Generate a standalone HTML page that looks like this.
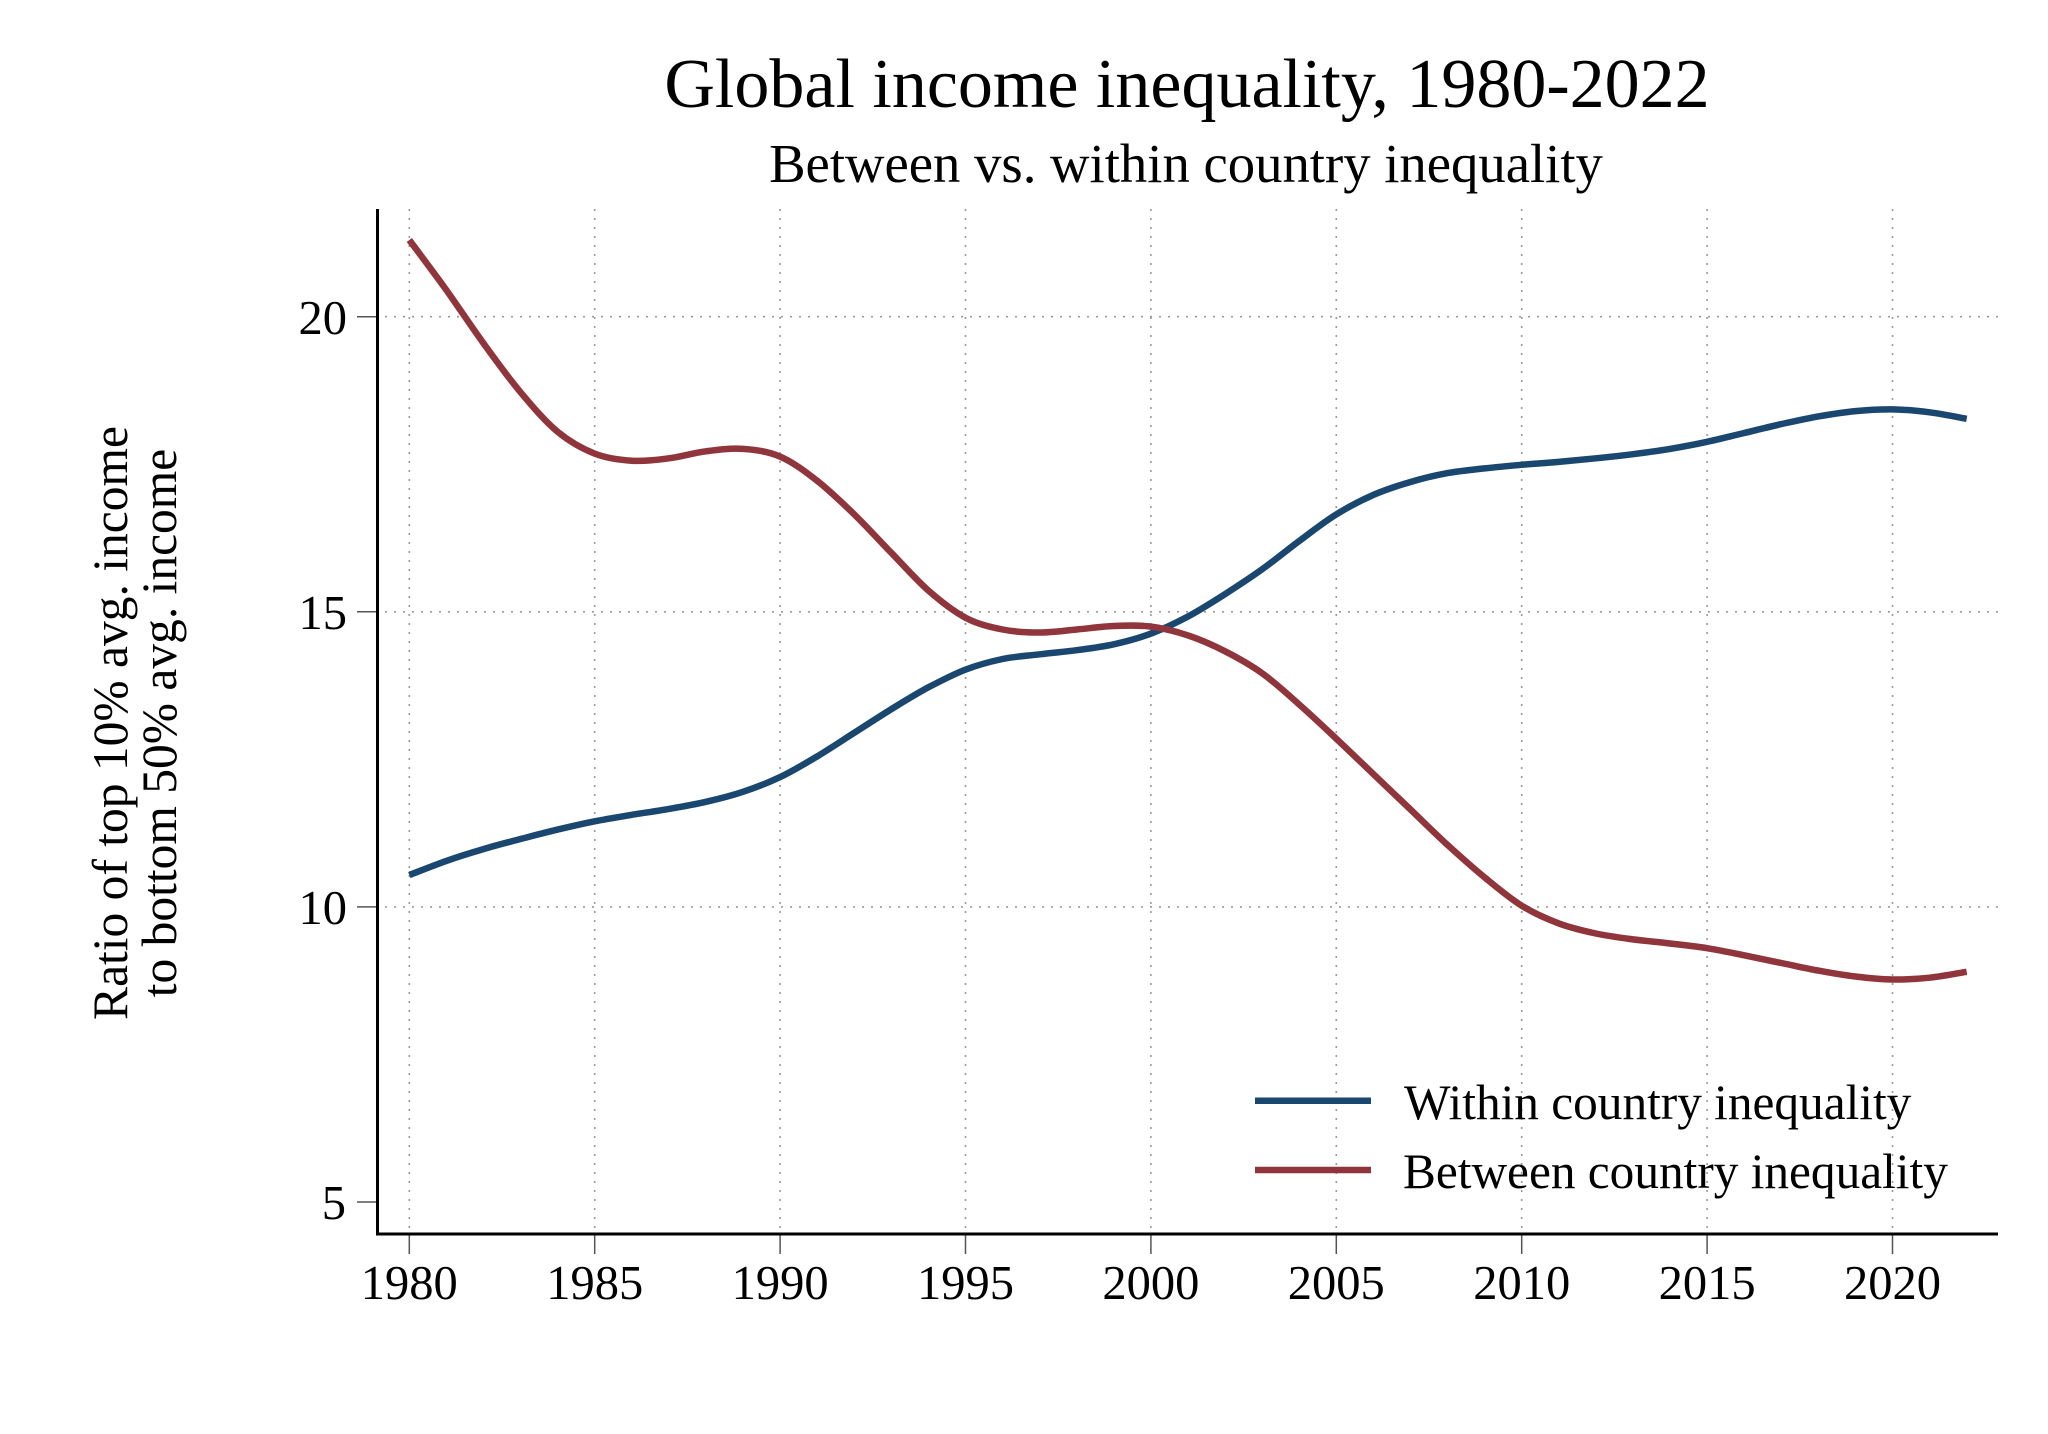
<!DOCTYPE html>
<html>
<head>
<meta charset="utf-8">
<style>
html,body{margin:0;padding:0;background:#fff;}
svg{display:block;}
text{font-family:"Liberation Serif","Times New Roman",serif;fill:#000;}
</style>
</head>
<body>
<svg id="chart" xmlns="http://www.w3.org/2000/svg" width="2048" height="1434" viewBox="0 0 2048 1434">
<rect x="0" y="0" width="2048" height="1434" fill="#fff"/>
<text x="1187" y="107" font-size="70" text-anchor="middle">Global income inequality, 1980-2022</text>
<text x="1186" y="182" font-size="54.7" text-anchor="middle">Between vs. within country inequality</text>

<g stroke="#9a9a9a" stroke-width="1.6" stroke-dasharray="2 7" fill="none">
<line x1="385" y1="316.7" x2="1998" y2="316.7"/>
<line x1="385" y1="611.8" x2="1998" y2="611.8"/>
<line x1="385" y1="906.9" x2="1998" y2="906.9"/>
<line x1="409.3" y1="209" x2="409.3" y2="1230"/>
<line x1="594.7" y1="209" x2="594.7" y2="1230"/>
<line x1="780.1" y1="209" x2="780.1" y2="1230"/>
<line x1="965.5" y1="209" x2="965.5" y2="1230"/>
<line x1="1150.9" y1="209" x2="1150.9" y2="1230"/>
<line x1="1336.3" y1="209" x2="1336.3" y2="1230"/>
<line x1="1521.7" y1="209" x2="1521.7" y2="1230"/>
<line x1="1707.1" y1="209" x2="1707.1" y2="1230"/>
<line x1="1892.5" y1="209" x2="1892.5" y2="1230"/>
</g>

<g stroke="#555" stroke-width="1.5">
<line x1="357" y1="316.7" x2="377" y2="316.7"/>
<line x1="357" y1="611.8" x2="377" y2="611.8"/>
<line x1="357" y1="906.9" x2="377" y2="906.9"/>
<line x1="357" y1="1202" x2="377" y2="1202"/>
<line x1="409.3" y1="1234" x2="409.3" y2="1254"/>
<line x1="594.7" y1="1234" x2="594.7" y2="1254"/>
<line x1="780.1" y1="1234" x2="780.1" y2="1254"/>
<line x1="965.5" y1="1234" x2="965.5" y2="1254"/>
<line x1="1150.9" y1="1234" x2="1150.9" y2="1254"/>
<line x1="1336.3" y1="1234" x2="1336.3" y2="1254"/>
<line x1="1521.7" y1="1234" x2="1521.7" y2="1254"/>
<line x1="1707.1" y1="1234" x2="1707.1" y2="1254"/>
<line x1="1892.5" y1="1234" x2="1892.5" y2="1254"/>
</g>

<g stroke="#000" stroke-width="3" fill="none">
<line x1="377.5" y1="209" x2="377.5" y2="1235.5"/>
<line x1="376" y1="1234" x2="1998" y2="1234"/>
</g>

<g font-size="48.5" text-anchor="end">
<text x="347" y="334">20</text>
<text x="347" y="629">15</text>
<text x="347" y="924">10</text>
<text x="346" y="1219">5</text>
</g>
<g font-size="48.5" text-anchor="middle">
<text x="409.3" y="1299">1980</text>
<text x="594.7" y="1299">1985</text>
<text x="780.1" y="1299">1990</text>
<text x="965.5" y="1299">1995</text>
<text x="1150.9" y="1299">2000</text>
<text x="1336.3" y="1299">2005</text>
<text x="1521.7" y="1299">2010</text>
<text x="1707.1" y="1299">2015</text>
<text x="1892.5" y="1299">2020</text>
</g>

<g font-size="49.5" text-anchor="middle">
<text transform="translate(127,723) rotate(-90)" x="0" y="0">Ratio of top 10% avg. income</text>
<text transform="translate(176,723) rotate(-90)" x="0" y="0">to bottom 50% avg. income</text>
</g>

<path id="blue" d="" fill="none" stroke="#1a476f" stroke-width="6.5" stroke-linejoin="round" stroke-linecap="butt"/>
<path id="red" d="" fill="none" stroke="#90353b" stroke-width="6.5" stroke-linejoin="round" stroke-linecap="butt"/>

<line x1="1255" y1="1100.7" x2="1371" y2="1100.7" stroke="#1a476f" stroke-width="6.5"/>
<line x1="1255" y1="1170" x2="1371" y2="1170" stroke="#90353b" stroke-width="6.5"/>
<g font-size="49.3">
<text x="1404" y="1119">Within country inequality</text>
<text x="1403" y="1188">Between country inequality</text>
</g>
</svg>
<script>
(function(){
  function X(yr){return 409.3+(yr-1980)*37.08;}
  function Y(v){return 316.7+(20-v)*59.02;}
  var blue=[10.54,10.78,10.98,11.15,11.31,11.45,11.56,11.66,11.78,11.95,12.2,12.55,12.95,13.35,13.72,14.02,14.2,14.28,14.35,14.45,14.63,14.92,15.3,15.72,16.2,16.65,16.98,17.2,17.35,17.43,17.49,17.54,17.6,17.67,17.76,17.88,18.03,18.18,18.31,18.4,18.43,18.38,18.27];
  var red=[21.3,20.45,19.55,18.72,18.05,17.68,17.56,17.6,17.72,17.76,17.63,17.22,16.65,16.0,15.36,14.9,14.7,14.65,14.7,14.76,14.75,14.6,14.33,13.96,13.43,12.85,12.25,11.65,11.05,10.5,10.02,9.72,9.55,9.45,9.38,9.3,9.18,9.05,8.92,8.82,8.77,8.8,8.9];
  function path(vals){
    var p=vals.map(function(v,i){return [X(1980+i),Y(v)];});
    var d="M"+p[0][0].toFixed(1)+","+p[0][1].toFixed(1);
    for(var i=0;i<p.length-1;i++){
      var p0=p[i-1]||p[i],p1=p[i],p2=p[i+1],p3=p[i+2]||p[i+1];
      var c1x=p1[0]+(p2[0]-p0[0])/6,c1y=p1[1]+(p2[1]-p0[1])/6;
      var c2x=p2[0]-(p3[0]-p1[0])/6,c2y=p2[1]-(p3[1]-p1[1])/6;
      d+=" C"+c1x.toFixed(1)+","+c1y.toFixed(1)+" "+c2x.toFixed(1)+","+c2y.toFixed(1)+" "+p2[0].toFixed(1)+","+p2[1].toFixed(1);
    }
    return d;
  }
  document.getElementById("blue").setAttribute("d",path(blue));
  document.getElementById("red").setAttribute("d",path(red));
})();
</script>
</body>
</html>
